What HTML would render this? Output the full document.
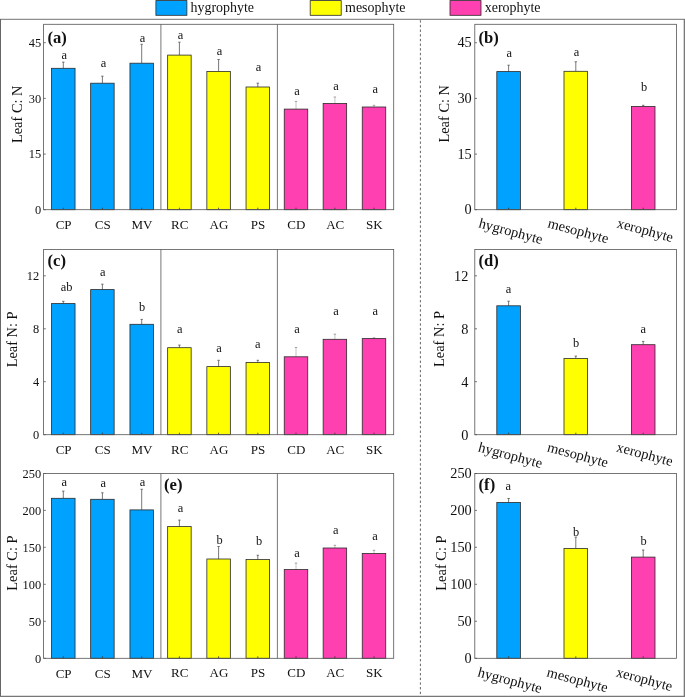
<!DOCTYPE html>
<html><head><meta charset="utf-8"><title>Leaf stoichiometry</title>
<style>
html,body{margin:0;padding:0;background:#fff;}
svg{display:block;font-family:"Liberation Serif","DejaVu Serif",serif;}
svg text{fill:#111;}
</style></head><body>
<svg width="685" height="697" viewBox="0 0 685 697">
<rect width="685" height="697" fill="#fff"/>
<line x1="63.30" y1="68.30" x2="63.30" y2="62.10" stroke="#555" stroke-width="0.8" />
<line x1="62.10" y1="62.10" x2="64.50" y2="62.10" stroke="#555" stroke-width="0.8" />
<rect x="51.55" y="68.30" width="23.50" height="141.40" fill="#00A2FF" stroke="#2a2a2a" stroke-width="0.8"/>
<line x1="63.30" y1="209.70" x2="63.30" y2="207.70" stroke="#333" stroke-width="0.8" />
<text x="64.30" y="58.80" font-size="12.4" text-anchor="middle" >a</text>
<line x1="102.40" y1="83.20" x2="102.40" y2="76.20" stroke="#555" stroke-width="0.8" />
<line x1="101.20" y1="76.20" x2="103.60" y2="76.20" stroke="#555" stroke-width="0.8" />
<rect x="90.65" y="83.20" width="23.50" height="126.50" fill="#00A2FF" stroke="#2a2a2a" stroke-width="0.8"/>
<line x1="102.40" y1="209.70" x2="102.40" y2="207.70" stroke="#333" stroke-width="0.8" />
<text x="103.40" y="67.40" font-size="12.4" text-anchor="middle" >a</text>
<line x1="141.70" y1="63.20" x2="141.70" y2="44.30" stroke="#555" stroke-width="0.8" />
<line x1="140.50" y1="44.30" x2="142.90" y2="44.30" stroke="#555" stroke-width="0.8" />
<rect x="129.95" y="63.20" width="23.50" height="146.50" fill="#00A2FF" stroke="#2a2a2a" stroke-width="0.8"/>
<line x1="141.70" y1="209.70" x2="141.70" y2="207.70" stroke="#333" stroke-width="0.8" />
<text x="142.50" y="42.00" font-size="12.4" text-anchor="middle" >a</text>
<line x1="179.40" y1="55.10" x2="179.40" y2="42.20" stroke="#555" stroke-width="0.8" />
<line x1="178.20" y1="42.20" x2="180.60" y2="42.20" stroke="#555" stroke-width="0.8" />
<rect x="167.65" y="55.10" width="23.50" height="154.60" fill="#FFFF00" stroke="#2a2a2a" stroke-width="0.8"/>
<line x1="179.40" y1="209.70" x2="179.40" y2="207.70" stroke="#333" stroke-width="0.8" />
<text x="180.50" y="38.50" font-size="12.4" text-anchor="middle" >a</text>
<line x1="218.60" y1="71.40" x2="218.60" y2="59.50" stroke="#555" stroke-width="0.8" />
<line x1="217.40" y1="59.50" x2="219.80" y2="59.50" stroke="#555" stroke-width="0.8" />
<rect x="206.85" y="71.40" width="23.50" height="138.30" fill="#FFFF00" stroke="#2a2a2a" stroke-width="0.8"/>
<line x1="218.60" y1="209.70" x2="218.60" y2="207.70" stroke="#333" stroke-width="0.8" />
<text x="219.60" y="54.60" font-size="12.4" text-anchor="middle" >a</text>
<line x1="257.80" y1="87.00" x2="257.80" y2="83.20" stroke="#555" stroke-width="0.8" />
<line x1="256.60" y1="83.20" x2="259.00" y2="83.20" stroke="#555" stroke-width="0.8" />
<rect x="246.05" y="87.00" width="23.50" height="122.70" fill="#FFFF00" stroke="#2a2a2a" stroke-width="0.8"/>
<line x1="257.80" y1="209.70" x2="257.80" y2="207.70" stroke="#333" stroke-width="0.8" />
<text x="258.60" y="70.60" font-size="12.4" text-anchor="middle" >a</text>
<line x1="296.00" y1="109.10" x2="296.00" y2="101.40" stroke="#b5b5b5" stroke-width="0.8" />
<line x1="294.80" y1="101.40" x2="297.20" y2="101.40" stroke="#8a8a8a" stroke-width="0.8" />
<rect x="284.25" y="109.10" width="23.50" height="100.60" fill="#FF40B0" stroke="#2a2a2a" stroke-width="0.8"/>
<line x1="296.00" y1="209.70" x2="296.00" y2="207.70" stroke="#333" stroke-width="0.8" />
<text x="297.00" y="94.90" font-size="12.4" text-anchor="middle" >a</text>
<line x1="334.90" y1="103.50" x2="334.90" y2="97.00" stroke="#b5b5b5" stroke-width="0.8" />
<line x1="333.70" y1="97.00" x2="336.10" y2="97.00" stroke="#8a8a8a" stroke-width="0.8" />
<rect x="323.15" y="103.50" width="23.50" height="106.20" fill="#FF40B0" stroke="#2a2a2a" stroke-width="0.8"/>
<line x1="334.90" y1="209.70" x2="334.90" y2="207.70" stroke="#333" stroke-width="0.8" />
<text x="336.10" y="89.70" font-size="12.4" text-anchor="middle" >a</text>
<line x1="374.00" y1="107.00" x2="374.00" y2="105.30" stroke="#b5b5b5" stroke-width="0.8" />
<line x1="372.80" y1="105.30" x2="375.20" y2="105.30" stroke="#8a8a8a" stroke-width="0.8" />
<rect x="362.25" y="107.00" width="23.50" height="102.70" fill="#FF40B0" stroke="#2a2a2a" stroke-width="0.8"/>
<line x1="374.00" y1="209.70" x2="374.00" y2="207.70" stroke="#333" stroke-width="0.8" />
<text x="375.20" y="92.80" font-size="12.4" text-anchor="middle" >a</text>
<rect x="43.60" y="24.30" width="350.10" height="185.40" fill="none" stroke="#555" stroke-width="0.8"/>
<line x1="160.90" y1="24.30" x2="160.90" y2="209.70" stroke="#555" stroke-width="0.8" />
<line x1="277.40" y1="24.30" x2="277.40" y2="209.70" stroke="#555" stroke-width="0.8" />
<line x1="43.60" y1="209.70" x2="45.80" y2="209.70" stroke="#555" stroke-width="0.8" />
<text x="41.20" y="213.90" font-size="12.4" text-anchor="end" >0</text>
<line x1="43.60" y1="154.10" x2="45.80" y2="154.10" stroke="#555" stroke-width="0.8" />
<text x="41.20" y="158.30" font-size="12.4" text-anchor="end" >15</text>
<line x1="43.60" y1="98.40" x2="45.80" y2="98.40" stroke="#555" stroke-width="0.8" />
<text x="41.20" y="102.60" font-size="12.4" text-anchor="end" >30</text>
<line x1="43.60" y1="42.70" x2="45.80" y2="42.70" stroke="#555" stroke-width="0.8" />
<text x="41.20" y="46.90" font-size="12.4" text-anchor="end" >45</text>
<text transform="translate(22.00,114.30) rotate(-90)" font-size="14.4" text-anchor="middle">Leaf C: N</text>
<text x="47.50" y="42.70" font-size="16.6" text-anchor="start" font-weight="bold">(a)</text>
<text x="63.60" y="229.30" font-size="13.0" text-anchor="middle" >CP</text>
<text x="102.70" y="229.30" font-size="13.0" text-anchor="middle" >CS</text>
<text x="142.00" y="229.30" font-size="13.0" text-anchor="middle" >MV</text>
<text x="179.70" y="229.30" font-size="13.0" text-anchor="middle" >RC</text>
<text x="218.90" y="229.30" font-size="13.0" text-anchor="middle" >AG</text>
<text x="258.10" y="229.30" font-size="13.0" text-anchor="middle" >PS</text>
<text x="296.30" y="229.30" font-size="13.0" text-anchor="middle" >CD</text>
<text x="335.20" y="229.30" font-size="13.0" text-anchor="middle" >AC</text>
<text x="374.30" y="229.30" font-size="13.0" text-anchor="middle" >SK</text>
<line x1="63.30" y1="303.60" x2="63.30" y2="301.30" stroke="#555" stroke-width="0.8" />
<line x1="62.10" y1="301.30" x2="64.50" y2="301.30" stroke="#555" stroke-width="0.8" />
<rect x="51.55" y="303.60" width="23.50" height="131.10" fill="#00A2FF" stroke="#2a2a2a" stroke-width="0.8"/>
<line x1="63.30" y1="434.70" x2="63.30" y2="432.70" stroke="#333" stroke-width="0.8" />
<text x="66.50" y="290.70" font-size="12.4" text-anchor="middle" >ab</text>
<line x1="102.40" y1="289.60" x2="102.40" y2="284.20" stroke="#555" stroke-width="0.8" />
<line x1="101.20" y1="284.20" x2="103.60" y2="284.20" stroke="#555" stroke-width="0.8" />
<rect x="90.65" y="289.60" width="23.50" height="145.10" fill="#00A2FF" stroke="#2a2a2a" stroke-width="0.8"/>
<line x1="102.40" y1="434.70" x2="102.40" y2="432.70" stroke="#333" stroke-width="0.8" />
<text x="102.70" y="276.30" font-size="12.4" text-anchor="middle" >a</text>
<line x1="141.70" y1="324.30" x2="141.70" y2="319.40" stroke="#555" stroke-width="0.8" />
<line x1="140.50" y1="319.40" x2="142.90" y2="319.40" stroke="#555" stroke-width="0.8" />
<rect x="129.95" y="324.30" width="23.50" height="110.40" fill="#00A2FF" stroke="#2a2a2a" stroke-width="0.8"/>
<line x1="141.70" y1="434.70" x2="141.70" y2="432.70" stroke="#333" stroke-width="0.8" />
<text x="142.00" y="311.10" font-size="12.4" text-anchor="middle" >b</text>
<line x1="179.40" y1="347.70" x2="179.40" y2="345.10" stroke="#555" stroke-width="0.8" />
<line x1="178.20" y1="345.10" x2="180.60" y2="345.10" stroke="#555" stroke-width="0.8" />
<rect x="167.65" y="347.70" width="23.50" height="87.00" fill="#FFFF00" stroke="#2a2a2a" stroke-width="0.8"/>
<line x1="179.40" y1="434.70" x2="179.40" y2="432.70" stroke="#333" stroke-width="0.8" />
<text x="179.80" y="332.90" font-size="12.4" text-anchor="middle" >a</text>
<line x1="218.60" y1="366.60" x2="218.60" y2="360.30" stroke="#555" stroke-width="0.8" />
<line x1="217.40" y1="360.30" x2="219.80" y2="360.30" stroke="#555" stroke-width="0.8" />
<rect x="206.85" y="366.60" width="23.50" height="68.10" fill="#FFFF00" stroke="#2a2a2a" stroke-width="0.8"/>
<line x1="218.60" y1="434.70" x2="218.60" y2="432.70" stroke="#333" stroke-width="0.8" />
<text x="219.00" y="351.80" font-size="12.4" text-anchor="middle" >a</text>
<line x1="257.80" y1="362.40" x2="257.80" y2="360.30" stroke="#555" stroke-width="0.8" />
<line x1="256.60" y1="360.30" x2="259.00" y2="360.30" stroke="#555" stroke-width="0.8" />
<rect x="246.05" y="362.40" width="23.50" height="72.30" fill="#FFFF00" stroke="#2a2a2a" stroke-width="0.8"/>
<line x1="257.80" y1="434.70" x2="257.80" y2="432.70" stroke="#333" stroke-width="0.8" />
<text x="257.80" y="347.80" font-size="12.4" text-anchor="middle" >a</text>
<line x1="296.00" y1="356.80" x2="296.00" y2="347.50" stroke="#b5b5b5" stroke-width="0.8" />
<line x1="294.80" y1="347.50" x2="297.20" y2="347.50" stroke="#8a8a8a" stroke-width="0.8" />
<rect x="284.25" y="356.80" width="23.50" height="77.90" fill="#FF40B0" stroke="#2a2a2a" stroke-width="0.8"/>
<line x1="296.00" y1="434.70" x2="296.00" y2="432.70" stroke="#333" stroke-width="0.8" />
<text x="297.10" y="333.30" font-size="12.4" text-anchor="middle" >a</text>
<line x1="334.90" y1="339.30" x2="334.90" y2="334.20" stroke="#b5b5b5" stroke-width="0.8" />
<line x1="333.70" y1="334.20" x2="336.10" y2="334.20" stroke="#8a8a8a" stroke-width="0.8" />
<rect x="323.15" y="339.30" width="23.50" height="95.40" fill="#FF40B0" stroke="#2a2a2a" stroke-width="0.8"/>
<line x1="334.90" y1="434.70" x2="334.90" y2="432.70" stroke="#333" stroke-width="0.8" />
<text x="336.00" y="315.40" font-size="12.4" text-anchor="middle" >a</text>
<line x1="374.00" y1="338.60" x2="374.00" y2="337.80" stroke="#b5b5b5" stroke-width="0.8" />
<line x1="372.80" y1="337.80" x2="375.20" y2="337.80" stroke="#8a8a8a" stroke-width="0.8" />
<rect x="362.25" y="338.60" width="23.50" height="96.10" fill="#FF40B0" stroke="#2a2a2a" stroke-width="0.8"/>
<line x1="374.00" y1="434.70" x2="374.00" y2="432.70" stroke="#333" stroke-width="0.8" />
<text x="375.30" y="314.50" font-size="12.4" text-anchor="middle" >a</text>
<rect x="43.60" y="249.40" width="350.10" height="185.30" fill="none" stroke="#555" stroke-width="0.8"/>
<line x1="160.90" y1="249.40" x2="160.90" y2="434.70" stroke="#555" stroke-width="0.8" />
<line x1="277.40" y1="249.40" x2="277.40" y2="434.70" stroke="#555" stroke-width="0.8" />
<line x1="43.60" y1="434.70" x2="45.80" y2="434.70" stroke="#555" stroke-width="0.8" />
<text x="39.20" y="438.70" font-size="12.4" text-anchor="end" >0</text>
<line x1="43.60" y1="381.70" x2="45.80" y2="381.70" stroke="#555" stroke-width="0.8" />
<text x="39.20" y="385.70" font-size="12.4" text-anchor="end" >4</text>
<line x1="43.60" y1="328.80" x2="45.80" y2="328.80" stroke="#555" stroke-width="0.8" />
<text x="39.20" y="332.80" font-size="12.4" text-anchor="end" >8</text>
<line x1="43.60" y1="275.80" x2="45.80" y2="275.80" stroke="#555" stroke-width="0.8" />
<text x="39.20" y="279.80" font-size="12.4" text-anchor="end" >12</text>
<text transform="translate(17.20,339.40) rotate(-90)" font-size="14.4" text-anchor="middle">Leaf N: P</text>
<text x="47.60" y="265.50" font-size="16.6" text-anchor="start" font-weight="bold">(c)</text>
<text x="63.60" y="453.60" font-size="13.0" text-anchor="middle" >CP</text>
<text x="102.70" y="453.60" font-size="13.0" text-anchor="middle" >CS</text>
<text x="142.00" y="453.60" font-size="13.0" text-anchor="middle" >MV</text>
<text x="179.70" y="453.60" font-size="13.0" text-anchor="middle" >RC</text>
<text x="218.90" y="453.60" font-size="13.0" text-anchor="middle" >AG</text>
<text x="258.10" y="453.60" font-size="13.0" text-anchor="middle" >PS</text>
<text x="296.30" y="453.60" font-size="13.0" text-anchor="middle" >CD</text>
<text x="335.20" y="453.60" font-size="13.0" text-anchor="middle" >AC</text>
<text x="374.30" y="453.60" font-size="13.0" text-anchor="middle" >SK</text>
<line x1="63.30" y1="498.30" x2="63.30" y2="491.10" stroke="#555" stroke-width="0.8" />
<line x1="62.10" y1="491.10" x2="64.50" y2="491.10" stroke="#555" stroke-width="0.8" />
<rect x="51.55" y="498.30" width="23.50" height="160.00" fill="#00A2FF" stroke="#2a2a2a" stroke-width="0.8"/>
<line x1="63.30" y1="658.30" x2="63.30" y2="656.30" stroke="#333" stroke-width="0.8" />
<text x="64.30" y="485.60" font-size="12.4" text-anchor="middle" >a</text>
<line x1="102.40" y1="499.30" x2="102.40" y2="492.80" stroke="#555" stroke-width="0.8" />
<line x1="101.20" y1="492.80" x2="103.60" y2="492.80" stroke="#555" stroke-width="0.8" />
<rect x="90.65" y="499.30" width="23.50" height="159.00" fill="#00A2FF" stroke="#2a2a2a" stroke-width="0.8"/>
<line x1="102.40" y1="658.30" x2="102.40" y2="656.30" stroke="#333" stroke-width="0.8" />
<text x="103.20" y="486.50" font-size="12.4" text-anchor="middle" >a</text>
<line x1="141.70" y1="509.90" x2="141.70" y2="489.30" stroke="#555" stroke-width="0.8" />
<line x1="140.50" y1="489.30" x2="142.90" y2="489.30" stroke="#555" stroke-width="0.8" />
<rect x="129.95" y="509.90" width="23.50" height="148.40" fill="#00A2FF" stroke="#2a2a2a" stroke-width="0.8"/>
<line x1="141.70" y1="658.30" x2="141.70" y2="656.30" stroke="#333" stroke-width="0.8" />
<text x="142.40" y="486.30" font-size="12.4" text-anchor="middle" >a</text>
<line x1="179.40" y1="526.60" x2="179.40" y2="520.10" stroke="#555" stroke-width="0.8" />
<line x1="178.20" y1="520.10" x2="180.60" y2="520.10" stroke="#555" stroke-width="0.8" />
<rect x="167.65" y="526.60" width="23.50" height="131.70" fill="#FFFF00" stroke="#2a2a2a" stroke-width="0.8"/>
<line x1="179.40" y1="658.30" x2="179.40" y2="656.30" stroke="#333" stroke-width="0.8" />
<text x="180.40" y="512.00" font-size="12.4" text-anchor="middle" >a</text>
<line x1="218.60" y1="559.00" x2="218.60" y2="546.50" stroke="#555" stroke-width="0.8" />
<line x1="217.40" y1="546.50" x2="219.80" y2="546.50" stroke="#555" stroke-width="0.8" />
<rect x="206.85" y="559.00" width="23.50" height="99.30" fill="#FFFF00" stroke="#2a2a2a" stroke-width="0.8"/>
<line x1="218.60" y1="658.30" x2="218.60" y2="656.30" stroke="#333" stroke-width="0.8" />
<text x="219.60" y="544.00" font-size="12.4" text-anchor="middle" >b</text>
<line x1="257.80" y1="559.60" x2="257.80" y2="555.30" stroke="#555" stroke-width="0.8" />
<line x1="256.60" y1="555.30" x2="259.00" y2="555.30" stroke="#555" stroke-width="0.8" />
<rect x="246.05" y="559.60" width="23.50" height="98.70" fill="#FFFF00" stroke="#2a2a2a" stroke-width="0.8"/>
<line x1="257.80" y1="658.30" x2="257.80" y2="656.30" stroke="#333" stroke-width="0.8" />
<text x="259.00" y="544.90" font-size="12.4" text-anchor="middle" >b</text>
<line x1="296.00" y1="569.60" x2="296.00" y2="563.10" stroke="#b5b5b5" stroke-width="0.8" />
<line x1="294.80" y1="563.10" x2="297.20" y2="563.10" stroke="#8a8a8a" stroke-width="0.8" />
<rect x="284.25" y="569.60" width="23.50" height="88.70" fill="#FF40B0" stroke="#2a2a2a" stroke-width="0.8"/>
<line x1="296.00" y1="658.30" x2="296.00" y2="656.30" stroke="#333" stroke-width="0.8" />
<text x="296.90" y="556.50" font-size="12.4" text-anchor="middle" >a</text>
<line x1="334.90" y1="548.00" x2="334.90" y2="545.30" stroke="#b5b5b5" stroke-width="0.8" />
<line x1="333.70" y1="545.30" x2="336.10" y2="545.30" stroke="#8a8a8a" stroke-width="0.8" />
<rect x="323.15" y="548.00" width="23.50" height="110.30" fill="#FF40B0" stroke="#2a2a2a" stroke-width="0.8"/>
<line x1="334.90" y1="658.30" x2="334.90" y2="656.30" stroke="#333" stroke-width="0.8" />
<text x="335.80" y="534.30" font-size="12.4" text-anchor="middle" >a</text>
<line x1="374.00" y1="553.50" x2="374.00" y2="550.30" stroke="#b5b5b5" stroke-width="0.8" />
<line x1="372.80" y1="550.30" x2="375.20" y2="550.30" stroke="#8a8a8a" stroke-width="0.8" />
<rect x="362.25" y="553.50" width="23.50" height="104.80" fill="#FF40B0" stroke="#2a2a2a" stroke-width="0.8"/>
<line x1="374.00" y1="658.30" x2="374.00" y2="656.30" stroke="#333" stroke-width="0.8" />
<text x="374.90" y="539.90" font-size="12.4" text-anchor="middle" >a</text>
<rect x="43.60" y="473.50" width="350.10" height="184.80" fill="none" stroke="#555" stroke-width="0.8"/>
<line x1="160.90" y1="473.50" x2="160.90" y2="658.30" stroke="#555" stroke-width="0.8" />
<line x1="277.40" y1="473.50" x2="277.40" y2="658.30" stroke="#555" stroke-width="0.8" />
<line x1="43.60" y1="658.30" x2="45.80" y2="658.30" stroke="#555" stroke-width="0.8" />
<text x="41.20" y="662.50" font-size="12.4" text-anchor="end" >0</text>
<line x1="43.60" y1="621.30" x2="45.80" y2="621.30" stroke="#555" stroke-width="0.8" />
<text x="41.20" y="625.50" font-size="12.4" text-anchor="end" >50</text>
<line x1="43.60" y1="584.30" x2="45.80" y2="584.30" stroke="#555" stroke-width="0.8" />
<text x="41.20" y="588.50" font-size="12.4" text-anchor="end" >100</text>
<line x1="43.60" y1="547.30" x2="45.80" y2="547.30" stroke="#555" stroke-width="0.8" />
<text x="41.20" y="551.50" font-size="12.4" text-anchor="end" >150</text>
<line x1="43.60" y1="510.40" x2="45.80" y2="510.40" stroke="#555" stroke-width="0.8" />
<text x="41.20" y="514.60" font-size="12.4" text-anchor="end" >200</text>
<line x1="43.60" y1="473.50" x2="45.80" y2="473.50" stroke="#555" stroke-width="0.8" />
<text x="41.20" y="477.70" font-size="12.4" text-anchor="end" >250</text>
<text transform="translate(17.40,563.10) rotate(-90)" font-size="14.4" text-anchor="middle">Leaf C: P</text>
<text x="164.00" y="489.80" font-size="16.6" text-anchor="start" font-weight="bold">(e)</text>
<text x="63.60" y="678.40" font-size="13.0" text-anchor="middle" >CP</text>
<text x="102.70" y="678.40" font-size="13.0" text-anchor="middle" >CS</text>
<text x="142.00" y="678.40" font-size="13.0" text-anchor="middle" >MV</text>
<text x="179.70" y="676.90" font-size="13.0" text-anchor="middle" >RC</text>
<text x="218.90" y="676.90" font-size="13.0" text-anchor="middle" >AG</text>
<text x="258.10" y="676.90" font-size="13.0" text-anchor="middle" >PS</text>
<text x="296.30" y="676.90" font-size="13.0" text-anchor="middle" >CD</text>
<text x="335.20" y="676.90" font-size="13.0" text-anchor="middle" >AC</text>
<text x="374.30" y="676.90" font-size="13.0" text-anchor="middle" >SK</text>
<line x1="508.60" y1="71.60" x2="508.60" y2="65.20" stroke="#555" stroke-width="0.8" />
<line x1="507.40" y1="65.20" x2="509.80" y2="65.20" stroke="#555" stroke-width="0.8" />
<rect x="496.80" y="71.60" width="23.60" height="138.10" fill="#00A2FF" stroke="#2a2a2a" stroke-width="0.8"/>
<line x1="508.60" y1="209.70" x2="508.60" y2="207.70" stroke="#333" stroke-width="0.8" />
<text x="509.20" y="56.60" font-size="12.4" text-anchor="middle" >a</text>
<line x1="575.80" y1="71.30" x2="575.80" y2="61.80" stroke="#555" stroke-width="0.8" />
<line x1="574.60" y1="61.80" x2="577.00" y2="61.80" stroke="#555" stroke-width="0.8" />
<rect x="564.00" y="71.30" width="23.60" height="138.40" fill="#FFFF00" stroke="#2a2a2a" stroke-width="0.8"/>
<line x1="575.80" y1="209.70" x2="575.80" y2="207.70" stroke="#333" stroke-width="0.8" />
<text x="576.40" y="56.30" font-size="12.4" text-anchor="middle" >a</text>
<line x1="643.20" y1="106.50" x2="643.20" y2="105.30" stroke="#555" stroke-width="0.8" />
<line x1="642.00" y1="105.30" x2="644.40" y2="105.30" stroke="#555" stroke-width="0.8" />
<rect x="631.40" y="106.50" width="23.60" height="103.20" fill="#FF40B0" stroke="#2a2a2a" stroke-width="0.8"/>
<line x1="643.20" y1="209.70" x2="643.20" y2="207.70" stroke="#333" stroke-width="0.8" />
<text x="644.10" y="91.20" font-size="12.4" text-anchor="middle" >b</text>
<rect x="474.80" y="24.30" width="201.80" height="185.40" fill="none" stroke="#555" stroke-width="0.8"/>
<line x1="474.80" y1="209.70" x2="477.00" y2="209.70" stroke="#555" stroke-width="0.8" />
<text x="471.70" y="214.30" font-size="14.3" text-anchor="end" >0</text>
<line x1="474.80" y1="154.10" x2="477.00" y2="154.10" stroke="#555" stroke-width="0.8" />
<text x="471.70" y="158.70" font-size="14.3" text-anchor="end" >15</text>
<line x1="474.80" y1="98.40" x2="477.00" y2="98.40" stroke="#555" stroke-width="0.8" />
<text x="471.70" y="103.00" font-size="14.3" text-anchor="end" >30</text>
<line x1="474.80" y1="42.70" x2="477.00" y2="42.70" stroke="#555" stroke-width="0.8" />
<text x="471.70" y="47.30" font-size="14.3" text-anchor="end" >45</text>
<text transform="translate(448.90,113.80) rotate(-90)" font-size="14.4" text-anchor="middle">Leaf C: N</text>
<text x="478.60" y="42.50" font-size="16.6" text-anchor="start" font-weight="bold">(b)</text>
<text transform="translate(477.90,227.20) rotate(15)" font-size="14.4" text-anchor="start">hygrophyte</text>
<text transform="translate(546.90,227.20) rotate(15)" font-size="14.4" text-anchor="start">mesophyte</text>
<text transform="translate(616.20,227.20) rotate(15)" font-size="14.4" text-anchor="start">xerophyte</text>
<line x1="508.60" y1="305.80" x2="508.60" y2="301.20" stroke="#555" stroke-width="0.8" />
<line x1="507.40" y1="301.20" x2="509.80" y2="301.20" stroke="#555" stroke-width="0.8" />
<rect x="496.80" y="305.80" width="23.60" height="128.90" fill="#00A2FF" stroke="#2a2a2a" stroke-width="0.8"/>
<line x1="508.60" y1="434.70" x2="508.60" y2="432.70" stroke="#333" stroke-width="0.8" />
<text x="508.60" y="293.20" font-size="12.4" text-anchor="middle" >a</text>
<line x1="575.80" y1="358.50" x2="575.80" y2="356.10" stroke="#555" stroke-width="0.8" />
<line x1="574.60" y1="356.10" x2="577.00" y2="356.10" stroke="#555" stroke-width="0.8" />
<rect x="564.00" y="358.50" width="23.60" height="76.20" fill="#FFFF00" stroke="#2a2a2a" stroke-width="0.8"/>
<line x1="575.80" y1="434.70" x2="575.80" y2="432.70" stroke="#333" stroke-width="0.8" />
<text x="576.00" y="346.60" font-size="12.4" text-anchor="middle" >b</text>
<line x1="643.20" y1="344.70" x2="643.20" y2="341.40" stroke="#555" stroke-width="0.8" />
<line x1="642.00" y1="341.40" x2="644.40" y2="341.40" stroke="#555" stroke-width="0.8" />
<rect x="631.40" y="344.70" width="23.60" height="90.00" fill="#FF40B0" stroke="#2a2a2a" stroke-width="0.8"/>
<line x1="643.20" y1="434.70" x2="643.20" y2="432.70" stroke="#333" stroke-width="0.8" />
<text x="643.20" y="332.80" font-size="12.4" text-anchor="middle" >a</text>
<rect x="474.80" y="249.40" width="201.80" height="185.30" fill="none" stroke="#555" stroke-width="0.8"/>
<line x1="474.80" y1="434.70" x2="477.00" y2="434.70" stroke="#555" stroke-width="0.8" />
<text x="468.30" y="439.50" font-size="14.3" text-anchor="end" >0</text>
<line x1="474.80" y1="381.70" x2="477.00" y2="381.70" stroke="#555" stroke-width="0.8" />
<text x="468.30" y="386.50" font-size="14.3" text-anchor="end" >4</text>
<line x1="474.80" y1="328.80" x2="477.00" y2="328.80" stroke="#555" stroke-width="0.8" />
<text x="468.30" y="333.60" font-size="14.3" text-anchor="end" >8</text>
<line x1="474.80" y1="275.80" x2="477.00" y2="275.80" stroke="#555" stroke-width="0.8" />
<text x="468.30" y="280.60" font-size="14.3" text-anchor="end" >12</text>
<text transform="translate(443.70,339.00) rotate(-90)" font-size="14.4" text-anchor="middle">Leaf N: P</text>
<text x="478.60" y="265.90" font-size="16.6" text-anchor="start" font-weight="bold">(d)</text>
<text transform="translate(477.50,451.20) rotate(15)" font-size="14.4" text-anchor="start">hygrophyte</text>
<text transform="translate(546.50,451.20) rotate(15)" font-size="14.4" text-anchor="start">mesophyte</text>
<text transform="translate(615.80,451.20) rotate(15)" font-size="14.4" text-anchor="start">xerophyte</text>
<line x1="508.60" y1="502.50" x2="508.60" y2="498.50" stroke="#555" stroke-width="0.8" />
<line x1="507.40" y1="498.50" x2="509.80" y2="498.50" stroke="#555" stroke-width="0.8" />
<rect x="496.80" y="502.50" width="23.60" height="155.80" fill="#00A2FF" stroke="#2a2a2a" stroke-width="0.8"/>
<line x1="508.60" y1="658.30" x2="508.60" y2="656.30" stroke="#333" stroke-width="0.8" />
<text x="508.30" y="489.60" font-size="12.4" text-anchor="middle" >a</text>
<line x1="575.80" y1="548.50" x2="575.80" y2="537.10" stroke="#555" stroke-width="0.8" />
<line x1="574.60" y1="537.10" x2="577.00" y2="537.10" stroke="#555" stroke-width="0.8" />
<rect x="564.00" y="548.50" width="23.60" height="109.80" fill="#FFFF00" stroke="#2a2a2a" stroke-width="0.8"/>
<line x1="575.80" y1="658.30" x2="575.80" y2="656.30" stroke="#333" stroke-width="0.8" />
<text x="576.10" y="536.10" font-size="12.4" text-anchor="middle" >b</text>
<line x1="643.20" y1="557.10" x2="643.20" y2="550.00" stroke="#555" stroke-width="0.8" />
<line x1="642.00" y1="550.00" x2="644.40" y2="550.00" stroke="#555" stroke-width="0.8" />
<rect x="631.40" y="557.10" width="23.60" height="101.20" fill="#FF40B0" stroke="#2a2a2a" stroke-width="0.8"/>
<line x1="643.20" y1="658.30" x2="643.20" y2="656.30" stroke="#333" stroke-width="0.8" />
<text x="643.50" y="544.70" font-size="12.4" text-anchor="middle" >b</text>
<rect x="474.80" y="473.50" width="201.80" height="184.80" fill="none" stroke="#555" stroke-width="0.8"/>
<line x1="474.80" y1="658.30" x2="477.00" y2="658.30" stroke="#555" stroke-width="0.8" />
<text x="471.70" y="662.90" font-size="14.3" text-anchor="end" >0</text>
<line x1="474.80" y1="621.30" x2="477.00" y2="621.30" stroke="#555" stroke-width="0.8" />
<text x="471.70" y="625.90" font-size="14.3" text-anchor="end" >50</text>
<line x1="474.80" y1="584.30" x2="477.00" y2="584.30" stroke="#555" stroke-width="0.8" />
<text x="471.70" y="588.90" font-size="14.3" text-anchor="end" >100</text>
<line x1="474.80" y1="547.30" x2="477.00" y2="547.30" stroke="#555" stroke-width="0.8" />
<text x="471.70" y="551.90" font-size="14.3" text-anchor="end" >150</text>
<line x1="474.80" y1="510.40" x2="477.00" y2="510.40" stroke="#555" stroke-width="0.8" />
<text x="471.70" y="515.00" font-size="14.3" text-anchor="end" >200</text>
<line x1="474.80" y1="473.50" x2="477.00" y2="473.50" stroke="#555" stroke-width="0.8" />
<text x="471.70" y="478.10" font-size="14.3" text-anchor="end" >250</text>
<text transform="translate(445.90,563.10) rotate(-90)" font-size="14.4" text-anchor="middle">Leaf C: P</text>
<text x="478.60" y="490.00" font-size="16.6" text-anchor="start" font-weight="bold">(f)</text>
<text transform="translate(477.10,676.20) rotate(15)" font-size="14.4" text-anchor="start">hygrophyte</text>
<text transform="translate(546.10,676.20) rotate(15)" font-size="14.4" text-anchor="start">mesophyte</text>
<text transform="translate(615.40,676.20) rotate(15)" font-size="14.4" text-anchor="start">xerophyte</text>
<line x1="0.00" y1="19.30" x2="685.00" y2="19.30" stroke="#8e8e8e" stroke-width="1.2" />
<line x1="0.50" y1="19.00" x2="0.50" y2="697.00" stroke="#666" stroke-width="1.0" />
<line x1="684.35" y1="19.00" x2="684.35" y2="697.00" stroke="#777" stroke-width="1.3" />
<line x1="0.00" y1="696.35" x2="685.00" y2="696.35" stroke="#777" stroke-width="1.3" />
<line x1="420.40" y1="20.20" x2="420.40" y2="695.60" stroke="#666" stroke-width="1.0" stroke-dasharray="2.4,2.263"/>
<rect x="155.9" y="0.6" width="31" height="14.7" fill="#00A2FF" stroke="#2a2a2a" stroke-width="0.8"/>
<text x="190.50" y="12.40" font-size="13.95" text-anchor="start" >hygrophyte</text>
<rect x="310.2" y="0.6" width="31" height="14.7" fill="#FFFF00" stroke="#2a2a2a" stroke-width="0.8"/>
<text x="345.10" y="12.40" font-size="13.95" text-anchor="start" >mesophyte</text>
<rect x="450" y="0.6" width="31" height="14.7" fill="#FF40B0" stroke="#2a2a2a" stroke-width="0.8"/>
<text x="484.80" y="12.40" font-size="13.95" text-anchor="start" >xerophyte</text>
</svg>
</body></html>
